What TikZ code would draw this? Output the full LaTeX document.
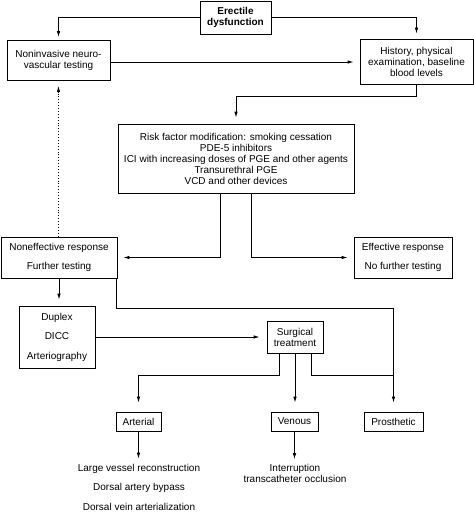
\documentclass[tikz,border=0pt]{standalone}
\usepackage{fontspec}
\setmainfont{Liberation Sans}
\usetikzlibrary{arrows.meta}
\begin{document}
\begin{tikzpicture}[x=1pt,y=-1pt,
  box/.style={draw, line width=0.9pt, inner sep=0pt, align=center, font=\fontsize{10}{11}\selectfont},
  arr/.style={line width=0.9pt, -{Latex[length=6pt,width=3.6pt]}},
  ln/.style={line width=0.9pt}]
\useasboundingbox (0,0) rectangle (474,515);
\node[box, minimum width=71pt, minimum height=33pt, font=\bfseries\fontsize{10}{11}\selectfont] (ed) at (235.5,17.5) {Erectile\\dysfunction};
\node[box, minimum width=103pt, minimum height=40pt] (nonin) at (58.5,60.5) {Noninvasive neuro-\\vascular testing};
\node[box, minimum width=113pt, minimum height=45pt] (hist) at (416.5,61.5) {History, physical\\examination, baseline\\blood levels};
\node[box, minimum width=236pt, minimum height=69pt] (risk) at (236,158.5) {Risk factor modification: smoking cessation\\PDE-5 inhibitors\\ICI with increasing doses of PGE and other agents\\Transurethral PGE\\VCD and other devices};
\node[box, minimum width=116pt, minimum height=41pt, font=\fontsize{10}{19}\selectfont] (noneff) at (59,257.5) {Noneffective response\\Further testing};
\node[box, minimum width=98pt, minimum height=41pt, font=\fontsize{10}{19}\selectfont] (eff) at (403,257.5) {Effective response\\No further testing};
\node[box, minimum width=76pt, minimum height=62pt, font=\fontsize{10}{19.5}\selectfont] (dup) at (57,337) {Duplex\\DICC\\Arteriography};
\node[box, minimum width=56pt, minimum height=32pt] (surg) at (295,337) {Surgical\\treatment};
\node[box, minimum width=45pt, minimum height=19pt] (art) at (138.5,421.5) {Arterial};
\node[box, minimum width=47pt, minimum height=19pt] (ven) at (294.5,421.5) {Venous};
\node[box, minimum width=59pt, minimum height=19pt] (pros) at (393.5,421.5) {Prosthetic};
\node[align=center, inner sep=0pt, font=\fontsize{10}{19.5}\selectfont] (arttxt) at (139,487) {Large vessel reconstruction\\Dorsal artery bypass\\Dorsal vein arterialization};
\node[align=center, inner sep=0pt, font=\fontsize{10}{11}\selectfont] (ventxt) at (295,473.5) {Interruption\\transcatheter occlusion};

\draw[arr, shorten >=3pt] (ed.west) -| (nonin.north);
\draw[arr, shorten >=5pt] (ed.east) -| (hist.north);
\draw[arr, shorten >=6pt] ([yshift=-1.5pt]nonin.east) -- ([yshift=-1.5pt]nonin.east -| hist.west);
\draw[arr, shorten >=6pt] (hist.south) -- ++(0,12) -| (risk.north);
\draw[arr, dotted, shorten >=5pt] (noneff.north -| nonin.south) -- (nonin.south);
\draw[arr, shorten >=6pt] ([xshift=-16pt]risk.south) |- (noneff.east);
\draw[arr, shorten >=6pt] ([xshift=15pt]risk.south) |- (eff.west);
\draw[arr, shorten >=6pt] (noneff.south) -- (noneff.south |- dup.north);
\draw[arr, shorten >=9pt] ([xshift=-1pt]noneff.south east) -- ++(0,30) -| (pros.north);
\draw[arr, shorten >=7pt] (dup.east) -- (surg.west);
\draw[arr, shorten >=9pt] ([xshift=-16pt]surg.south) -- ++(0,22) -| (art.north);
\draw[arr, shorten >=9pt] (surg.south) -- (surg.south |- ven.north);
\draw[ln] ([xshift=16pt]surg.south) -- ++(0,22) coordinate (j) -- (j -| pros.north);
\draw[arr, shorten >=5pt] (art.south) -- (art.south |- arttxt.north);
\draw[arr, shorten >=5pt] (ven.south) -- (ven.south |- ventxt.north);
\end{tikzpicture}
\end{document}
